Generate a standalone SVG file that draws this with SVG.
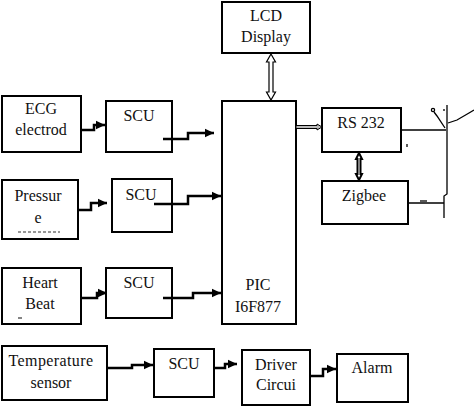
<svg xmlns="http://www.w3.org/2000/svg" width="474" height="406" viewBox="0 0 474 406">
<style>
.box{fill:#fff;stroke:#000;stroke-width:2}
text{font-family:'Liberation Serif','DejaVu Serif','Times New Roman',serif;font-size:16px;fill:#111;text-anchor:middle}
.w{fill:none;stroke:#000;stroke-width:2.5}
.thin{fill:none;stroke:#000;stroke-width:1.3}
</style>
<defs>
<marker id="ah" markerWidth="4" markerHeight="4" refX="3.6" refY="2" orient="auto" markerUnits="strokeWidth">
<path d="M0,0.3 L3.6,2 L0,3.7 Z" fill="#000"/>
</marker>
</defs>
<rect width="474" height="406" fill="#fff"/>

<g id="ecg"><rect class="box" x="2" y="96" width="79" height="56"/><text x="41" y="114" font-family="Liberation Serif, serif">ECG</text><text x="41" y="135" font-family="Liberation Serif, serif">electrod</text></g>
<g id="scu1"><rect class="box" x="106" y="101" width="66" height="51"/><text x="139" y="121" font-family="Liberation Serif, serif">SCU</text></g>
<g id="pressure"><rect class="box" x="2" y="180" width="76" height="59"/><text x="38" y="201" font-family="Liberation Serif, serif">Pressur</text><text x="38" y="223" font-family="Liberation Serif, serif">e</text><line x1="18" y1="232" x2="60" y2="232" stroke="#333" stroke-width="1.2" stroke-dasharray="3,2"/></g>
<g id="scu2"><rect class="box" x="112" y="179" width="60" height="53"/><text x="141" y="200" font-family="Liberation Serif, serif">SCU</text></g>
<g id="heart"><rect class="box" x="2" y="268" width="79" height="56"/><text x="40" y="288" font-family="Liberation Serif, serif">Heart</text><text x="40" y="309" font-family="Liberation Serif, serif">Beat</text><line x1="18" y1="318" x2="22" y2="318" stroke="#333" stroke-width="1.2"/></g>
<g id="scu3"><rect class="box" x="106" y="268" width="66" height="50"/><text x="139" y="288" font-family="Liberation Serif, serif">SCU</text></g>
<g id="temp"><rect class="box" x="2" y="346" width="105" height="54"/><text x="51" y="366" font-family="Liberation Serif, serif" letter-spacing="0.4">Temperature</text><text x="51" y="388" font-family="Liberation Serif, serif">sensor</text></g>
<g id="scu4"><rect class="box" x="154" y="349" width="60" height="48"/><text x="184" y="369" font-family="Liberation Serif, serif">SCU</text></g>
<g id="driver"><rect class="box" x="242" y="350" width="68" height="55"/><text x="276" y="370" font-family="Liberation Serif, serif">Driver</text><text x="276" y="390" font-family="Liberation Serif, serif">Circui</text></g>
<g id="alarm"><rect class="box" x="337" y="354" width="71" height="48"/><text x="372" y="373" font-family="Liberation Serif, serif">Alarm</text></g>
<g id="lcd"><rect class="box" x="222" y="2" width="88" height="51"/><text x="266" y="21" font-family="Liberation Serif, serif">LCD</text><text x="266" y="42" font-family="Liberation Serif, serif">Display</text></g>
<g id="pic"><rect class="box" x="222" y="101" width="74" height="223"/><text x="258" y="290" font-family="Liberation Serif, serif">PIC</text><text x="258" y="312" font-family="Liberation Serif, serif">I6F877</text></g>
<g id="rs232"><rect class="box" x="322" y="108" width="79" height="44"/><text x="361" y="128" font-family="Liberation Serif, serif">RS 232</text></g>
<g id="zigbee"><rect class="box" x="322" y="181" width="86" height="43"/><text x="364" y="201" font-family="Liberation Serif, serif">Zigbee</text></g>

<g id="connectors">
<path class="w" d="M81,130 H94 V125 H105" marker-end="url(#ah)"/>
<path class="w" d="M163,139 H188 V133 H214" marker-end="url(#ah)"/>
<path class="w" d="M78,210 H91 V203 H107" marker-end="url(#ah)"/>
<path class="w" d="M154,204 H188 V196 H221" marker-end="url(#ah)"/>
<path class="w" d="M81,298 H97 V293 H107" marker-end="url(#ah)"/>
<path class="w" d="M163,298 H193 V293 H221" marker-end="url(#ah)"/>
<path class="w" d="M107,368 H132 V365 H153" marker-end="url(#ah)"/>
<path class="w" d="M214,368 H225 V364 H237" marker-end="url(#ah)"/>
<path class="w" d="M310,376 H323 V369 H336" marker-end="url(#ah)"/>
<polygon points="271,54 275.5,62 273,62 273,92 275.5,92 271,100 266.5,92 269,92 269,62 266.5,62" fill="#fff" stroke="#000" stroke-width="1.2"/>
<polygon points="296,125.5 317,125.5 317,124 322,127 317,130 317,128.5 296,128.5" fill="#bbb" stroke="#000" stroke-width="1"/>
<polygon points="359,153 362,159 360.5,159 360.5,174 362,174 359,180 356,174 357.5,174 357.5,159 356,159" fill="#fff" stroke="#000" stroke-width="2"/>
<path class="thin" d="M401,130 H446"/>
<path class="thin" d="M447,105 V194 L444,196 V218"/>
<path class="thin" d="M408,203 H444"/>
<path class="thin" d="M420,201 H427"/>
<path class="thin" d="M445,128 L437,116 L434,112"/>
<circle cx="433" cy="110" r="1.6" class="thin"/>
<path class="thin" d="M448,123 L457,120 L469,113 L474,110"/>
<path class="thin" d="M444,109 V111"/>
<path class="thin" d="M407,144 V147"/>
</g>
</svg>
